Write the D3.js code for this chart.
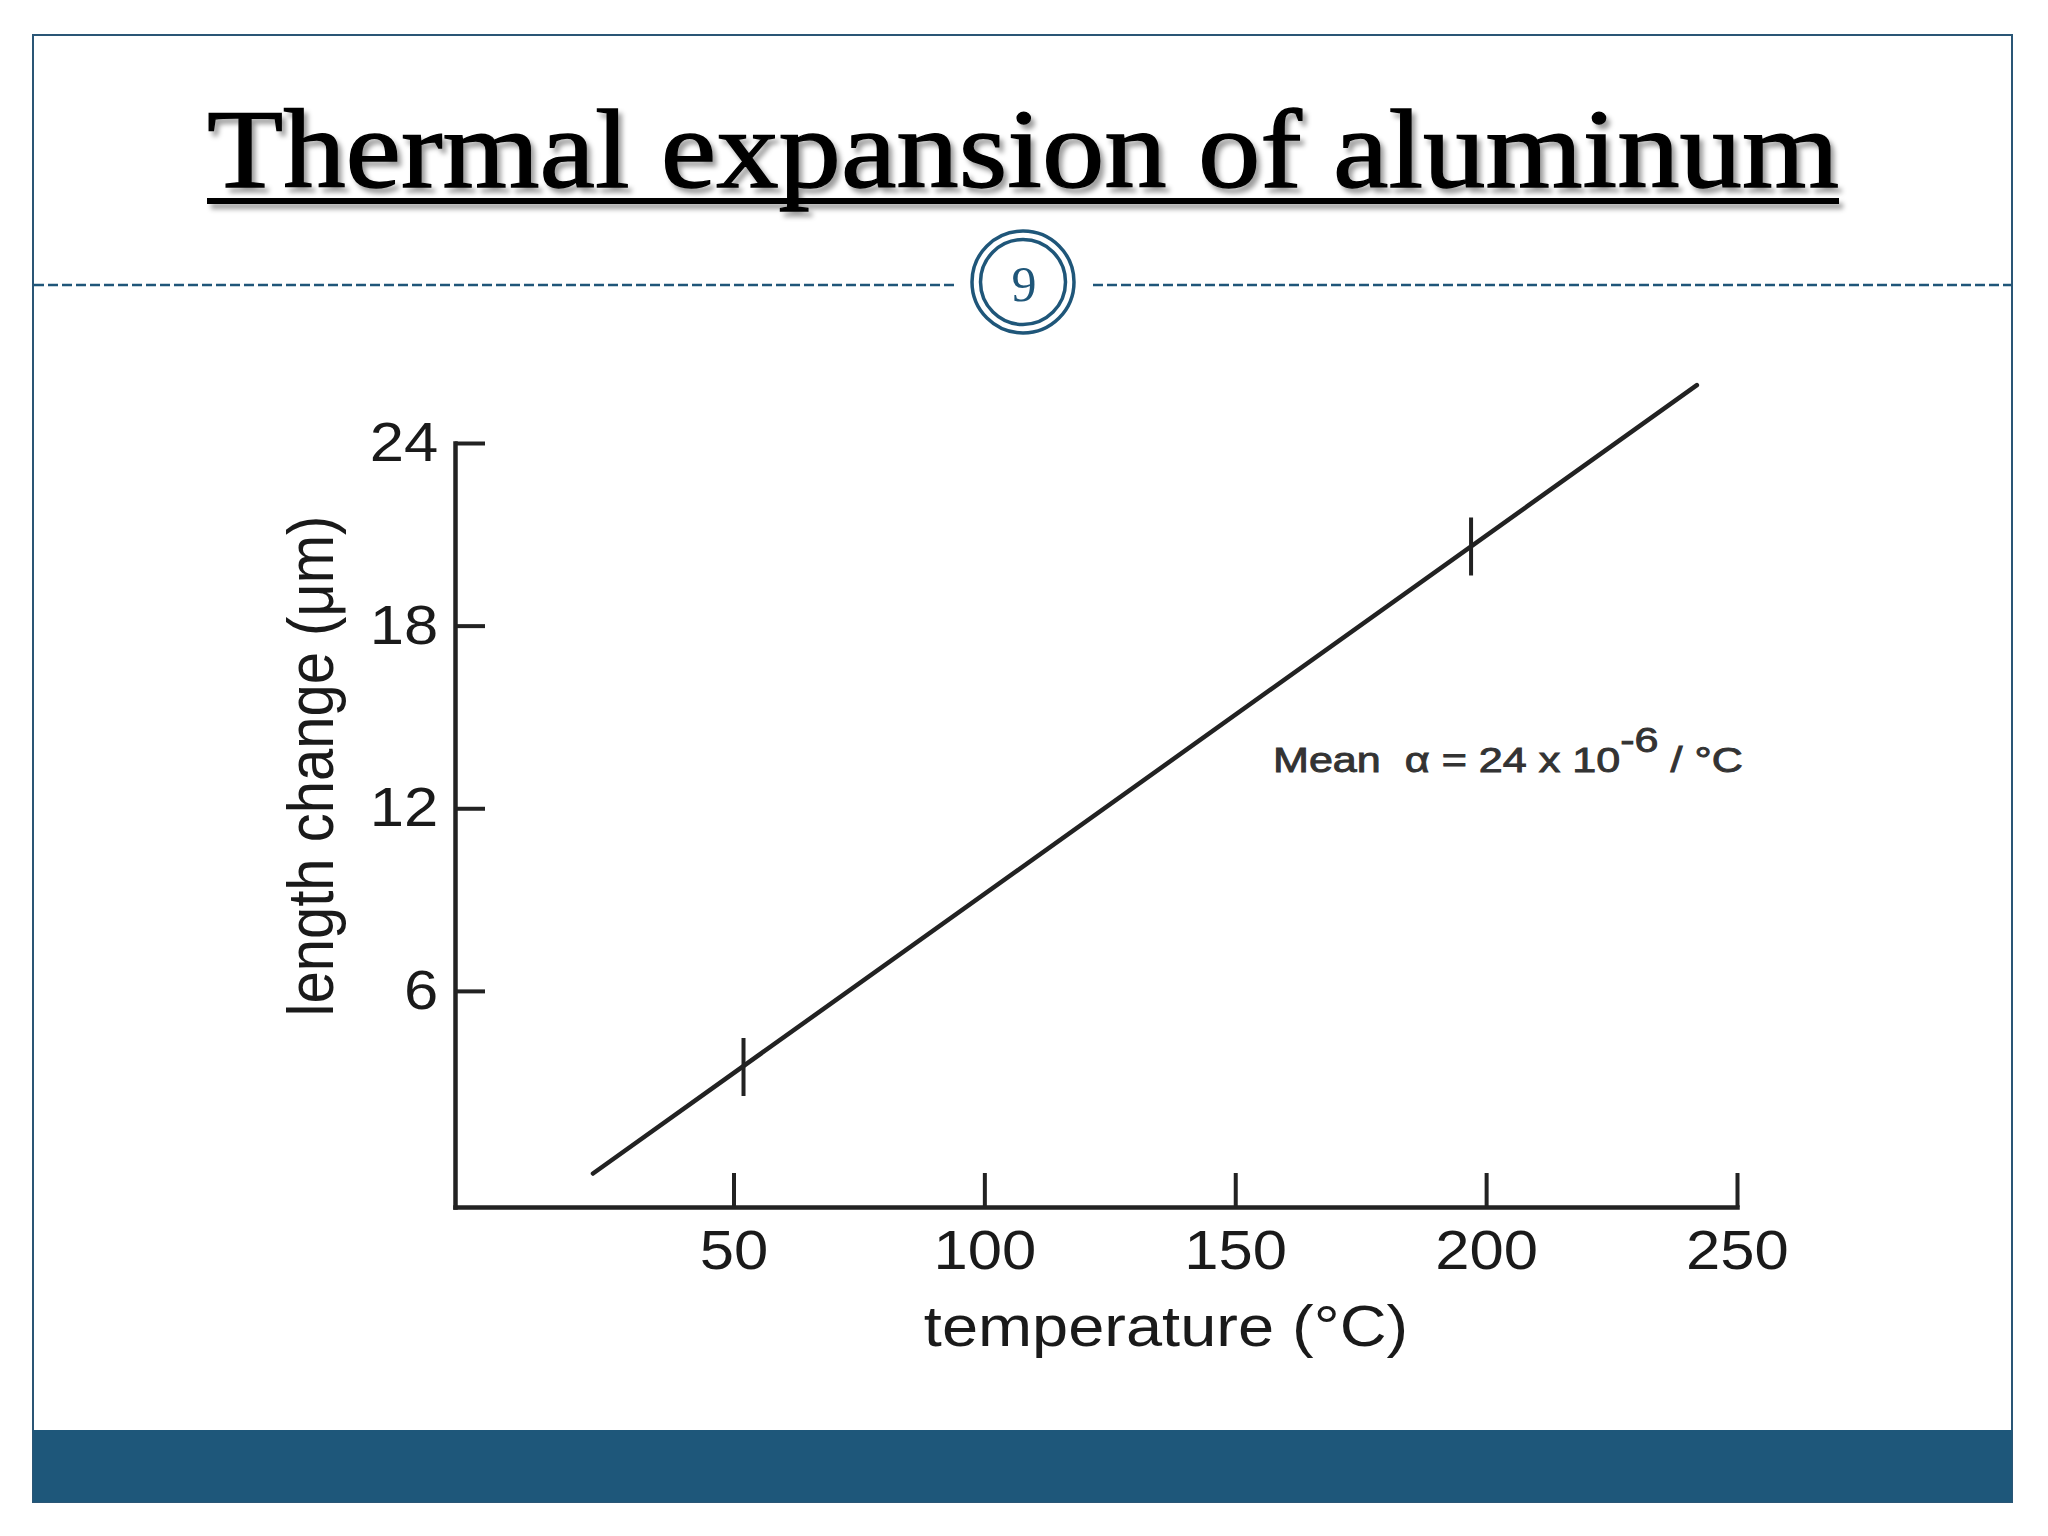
<!DOCTYPE html>
<html>
<head>
<meta charset="utf-8">
<script src="https://cdn.jsdelivr.net/npm/d3@7"></script>
<style>
  html, body { margin: 0; padding: 0; background: #ffffff; }
  svg { display: block; }
</style>
</head>
<body>
<script>
// ---- data ----
const lineTemps   = [22, 242];      // temperature (°C) at the line ends
const lineLengths = [0, 25.9];      // length change (µm) at the line ends
const markTemps   = [52, 197];      // measurement markers on the line
const markLengths = [3.5, 20.6];
const xTickValues = [50, 100, 150, 200, 250];
const yTickValues = [6, 12, 18, 24];
const titleText   = "Thermal expansion of aluminum";
const pageNumber  = "9";
const xTitle      = "temperature (°C)";
const yTitle      = "length change (μm)";

const W = 2048, H = 1536;
const BLUE = "#1f5679";
const INK = "#222";
const SX = 1.12; // horizontal stretch of the pasted figure

const svg = d3.select("body").append("svg").attr("width", W).attr("height", H);
const defs = svg.append("defs");
const f = defs.append("filter").attr("id", "sh")
  .attr("x", "-5%").attr("y", "-30%").attr("width", "112%").attr("height", "170%");
f.append("feDropShadow").attr("dx", 4).attr("dy", 5).attr("stdDeviation", 2.5)
  .attr("flood-color", "#000").attr("flood-opacity", 0.38);

// ---- slide frame ----
svg.append("rect").attr("x", 33).attr("y", 35).attr("width", 1979).attr("height", 1467)
  .attr("fill", "#fff").attr("stroke", "#2a5676").attr("stroke-width", 2);
svg.append("rect").attr("x", 33).attr("y", 1430).attr("width", 1979).attr("height", 72)
  .attr("fill", "#1e577a");

// ---- title ----
const tg = svg.append("g").attr("filter", "url(#sh)");
tg.append("text")
  .attr("x", 207).attr("y", 187)
  .attr("font-family", "'Liberation Serif', 'DejaVu Serif', serif")
  .attr("font-size", 112).attr("fill", "#000")
  .attr("stroke", "#000").attr("stroke-width", 1.3)
  .attr("textLength", 1632).attr("lengthAdjust", "spacingAndGlyphs")
  .text(titleText);
tg.append("rect").attr("x", 207).attr("y", 198).attr("width", 1632).attr("height", 6).attr("fill", "#000");

// ---- dashed separator & page number ----
svg.append("line").attr("x1", 34).attr("x2", 955).attr("y1", 285).attr("y2", 285)
  .attr("stroke", BLUE).attr("stroke-width", 2.5).attr("stroke-dasharray", "10,4");
svg.append("line").attr("x1", 1093).attr("x2", 2011).attr("y1", 285).attr("y2", 285)
  .attr("stroke", BLUE).attr("stroke-width", 2.5).attr("stroke-dasharray", "10,4");
svg.append("circle").attr("cx", 1023).attr("cy", 282).attr("r", 51)
  .attr("fill", "#fff").attr("stroke", BLUE).attr("stroke-width", 3.5);
svg.append("circle").attr("cx", 1023).attr("cy", 282).attr("r", 42.5)
  .attr("fill", "none").attr("stroke", BLUE).attr("stroke-width", 3.5);
svg.append("text").attr("x", 1024).attr("y", 301)
  .attr("text-anchor", "middle")
  .attr("font-family", "'Liberation Serif', 'DejaVu Serif', serif")
  .attr("font-size", 50).attr("fill", BLUE).text(pageNumber);

// ---- chart ----
const x = d3.scaleLinear().domain([-5.5, 250]).range([455, 1737]);
const y = d3.scaleLinear().domain([-1.1, 24]).range([1207, 443]);

const FONT = "'Liberation Sans', Arial, Helvetica, sans-serif";

const xAxis = d3.axisBottom(x).tickValues(xTickValues).tickFormat(d3.format("d"))
  .tickSizeInner(-34).tickSizeOuter(0).tickPadding(23);
const gx = svg.append("g").attr("transform", `translate(0,${y(-1.1)})`).call(xAxis);
gx.select(".domain").attr("stroke", INK).attr("stroke-width", 4.5);
gx.selectAll(".tick line").attr("stroke", INK).attr("stroke-width", 4);
gx.selectAll(".tick text").attr("font-family", FONT).attr("font-size", 55)
  .attr("fill", "#1a1a1a").attr("transform", `scale(${SX},1)`);

const yAxis = d3.axisLeft(y).tickValues(yTickValues).tickFormat(d3.format("d"))
  .tickSizeInner(-30).tickSizeOuter(0).tickPadding(15);
const gy = svg.append("g").attr("transform", `translate(${x(-5.5)},0)`).call(yAxis);
gy.select(".domain").attr("stroke", INK).attr("stroke-width", 4.5);
gy.selectAll(".tick line").attr("stroke", INK).attr("stroke-width", 4);
gy.selectAll(".tick text").attr("font-family", FONT).attr("font-size", 55)
  .attr("fill", "#1a1a1a").attr("transform", `scale(${SX},1)`);
svg.selectAll(".domain").attr("stroke-linecap", "square");

// axis titles
svg.append("text")
  .attr("transform", `translate(1166,1346) scale(${SX},1)`)
  .attr("text-anchor", "middle").attr("font-family", FONT).attr("font-size", 58)
  .attr("fill", "#1a1a1a").text(xTitle);
svg.append("text")
  .attr("transform", `translate(333,766) scale(${SX},1) rotate(-90)`)
  .attr("text-anchor", "middle").attr("font-family", FONT).attr("font-size", 58)
  .attr("fill", "#1a1a1a").text(yTitle);

// the line
const pts = lineTemps.map((t, i) => [t, lineLengths[i]]);
svg.append("path").datum(pts)
  .attr("d", d3.line().x(d => x(d[0])).y(d => y(d[1])))
  .attr("fill", "none").attr("stroke", INK).attr("stroke-width", 4.5)
  .attr("stroke-linecap", "round");

// measurement markers (short vertical bars crossing the line)
const marks = markTemps.map((t, i) => [t, markLengths[i]]);
svg.selectAll(".mark").data(marks).enter().append("line").attr("class", "mark")
  .attr("x1", d => x(d[0])).attr("x2", d => x(d[0]))
  .attr("y1", d => y(d[1]) - 29).attr("y2", d => y(d[1]) + 29)
  .attr("stroke", INK).attr("stroke-width", 4);

// annotation
const ann = svg.append("text")
  .attr("x", 0).attr("y", 0)
  .attr("font-family", FONT).attr("font-size", 35)
  .attr("fill", "#333").attr("stroke", "#333").attr("stroke-width", 0.9)
  .style("white-space", "pre");
ann.append("tspan").text("Mean  α = 24 x 10");
ann.append("tspan").attr("dy", -20).text("-6");
ann.append("tspan").attr("dy", 20).text(" / °C");
const annLen = ann.node().getComputedTextLength();
ann.attr("transform", `translate(1273,772) scale(${470 / annLen},1)`);
</script>
</body>
</html>
